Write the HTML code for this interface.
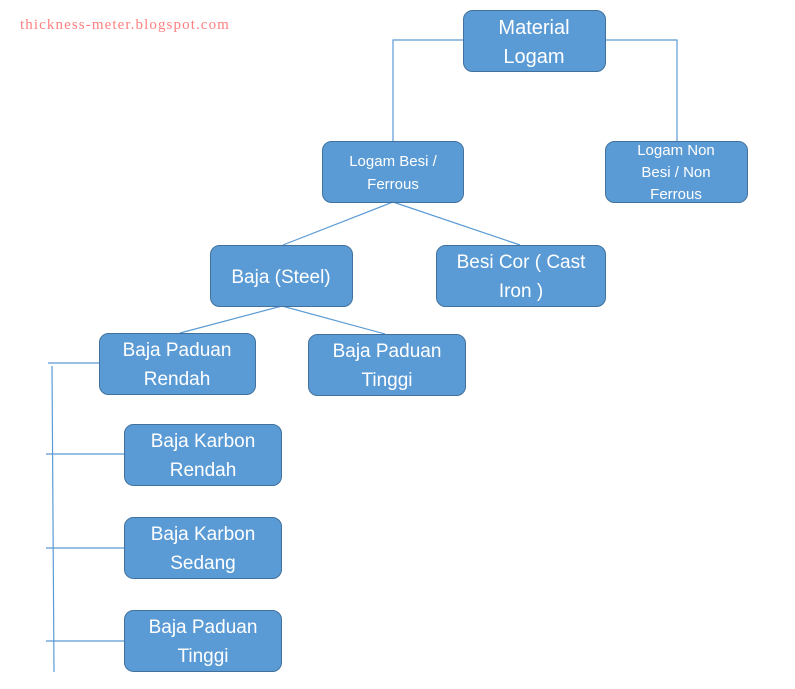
<!DOCTYPE html>
<html><head><meta charset="utf-8"><style>
html,body{margin:0;padding:0;background:#fff;width:795px;height:689px;overflow:hidden}
svg{display:block}
.b{fill:#5b9bd5;stroke:#41719c;stroke-width:1}
.t{fill:#fff;font-family:"Liberation Sans",sans-serif;text-anchor:middle}
.l{stroke:#5b9bd5;stroke-width:1.2;fill:none}
</style></head><body>
<svg width="795" height="689" viewBox="0 0 795 689">
<text x="20" y="29" font-family="Liberation Serif,serif" font-size="15" letter-spacing="1.1" fill="#ff7f7f">thickness-meter.blogspot.com</text>
<polyline class="l" points="463,40 393,40 393,141"/>
<polyline class="l" points="605,40 677,40 677,141"/>
<line class="l" x1="393" y1="202" x2="283" y2="245"/>
<line class="l" x1="393" y1="202" x2="520" y2="245"/>
<line class="l" x1="282" y1="306" x2="180" y2="333"/>
<line class="l" x1="282" y1="306" x2="385" y2="334"/>
<line class="l" x1="48" y1="363" x2="100" y2="363"/>
<line class="l" x1="52" y1="366" x2="54" y2="672"/>
<line class="l" x1="46" y1="454" x2="124" y2="454"/>
<line class="l" x1="46" y1="548" x2="124" y2="548"/>
<line class="l" x1="46" y1="641" x2="124" y2="641"/>

<rect class="b" x="463.5" y="10.5" width="142" height="61" rx="9"/>
<text class="t" font-size="20" x="534" y="34">Material</text>
<text class="t" font-size="20" x="534" y="63">Logam</text>

<rect class="b" x="322.5" y="141.5" width="141" height="61" rx="9"/>
<text class="t" font-size="15" x="393" y="166">Logam Besi /</text>
<text class="t" font-size="15" x="393" y="189">Ferrous</text>

<rect class="b" x="605.5" y="141.5" width="142" height="61" rx="9"/>
<text class="t" font-size="15" x="676" y="155">Logam Non</text>
<text class="t" font-size="15" x="676" y="177">Besi / Non</text>
<text class="t" font-size="15" x="676" y="199">Ferrous</text>

<rect class="b" x="210.5" y="245.5" width="142" height="61" rx="9"/>
<text class="t" font-size="19" x="281" y="283">Baja (Steel)</text>

<rect class="b" x="436.5" y="245.5" width="169" height="61" rx="9"/>
<text class="t" font-size="19" x="521" y="268">Besi Cor ( Cast</text>
<text class="t" font-size="19" x="521" y="297">Iron )</text>

<rect class="b" x="99.5" y="333.5" width="156" height="61" rx="9"/>
<text class="t" font-size="19" x="177" y="356">Baja Paduan</text>
<text class="t" font-size="19" x="177" y="385">Rendah</text>

<rect class="b" x="308.5" y="334.5" width="157" height="61" rx="9"/>
<text class="t" font-size="19" x="387" y="357">Baja Paduan</text>
<text class="t" font-size="19" x="387" y="386">Tinggi</text>

<rect class="b" x="124.5" y="424.5" width="157" height="61" rx="9"/>
<text class="t" font-size="19" x="203" y="447">Baja Karbon</text>
<text class="t" font-size="19" x="203" y="476">Rendah</text>

<rect class="b" x="124.5" y="517.5" width="157" height="61" rx="9"/>
<text class="t" font-size="19" x="203" y="540">Baja Karbon</text>
<text class="t" font-size="19" x="203" y="569">Sedang</text>

<rect class="b" x="124.5" y="610.5" width="157" height="61" rx="9"/>
<text class="t" font-size="19" x="203" y="633">Baja Paduan</text>
<text class="t" font-size="19" x="203" y="662">Tinggi</text>
</svg>
</body></html>
